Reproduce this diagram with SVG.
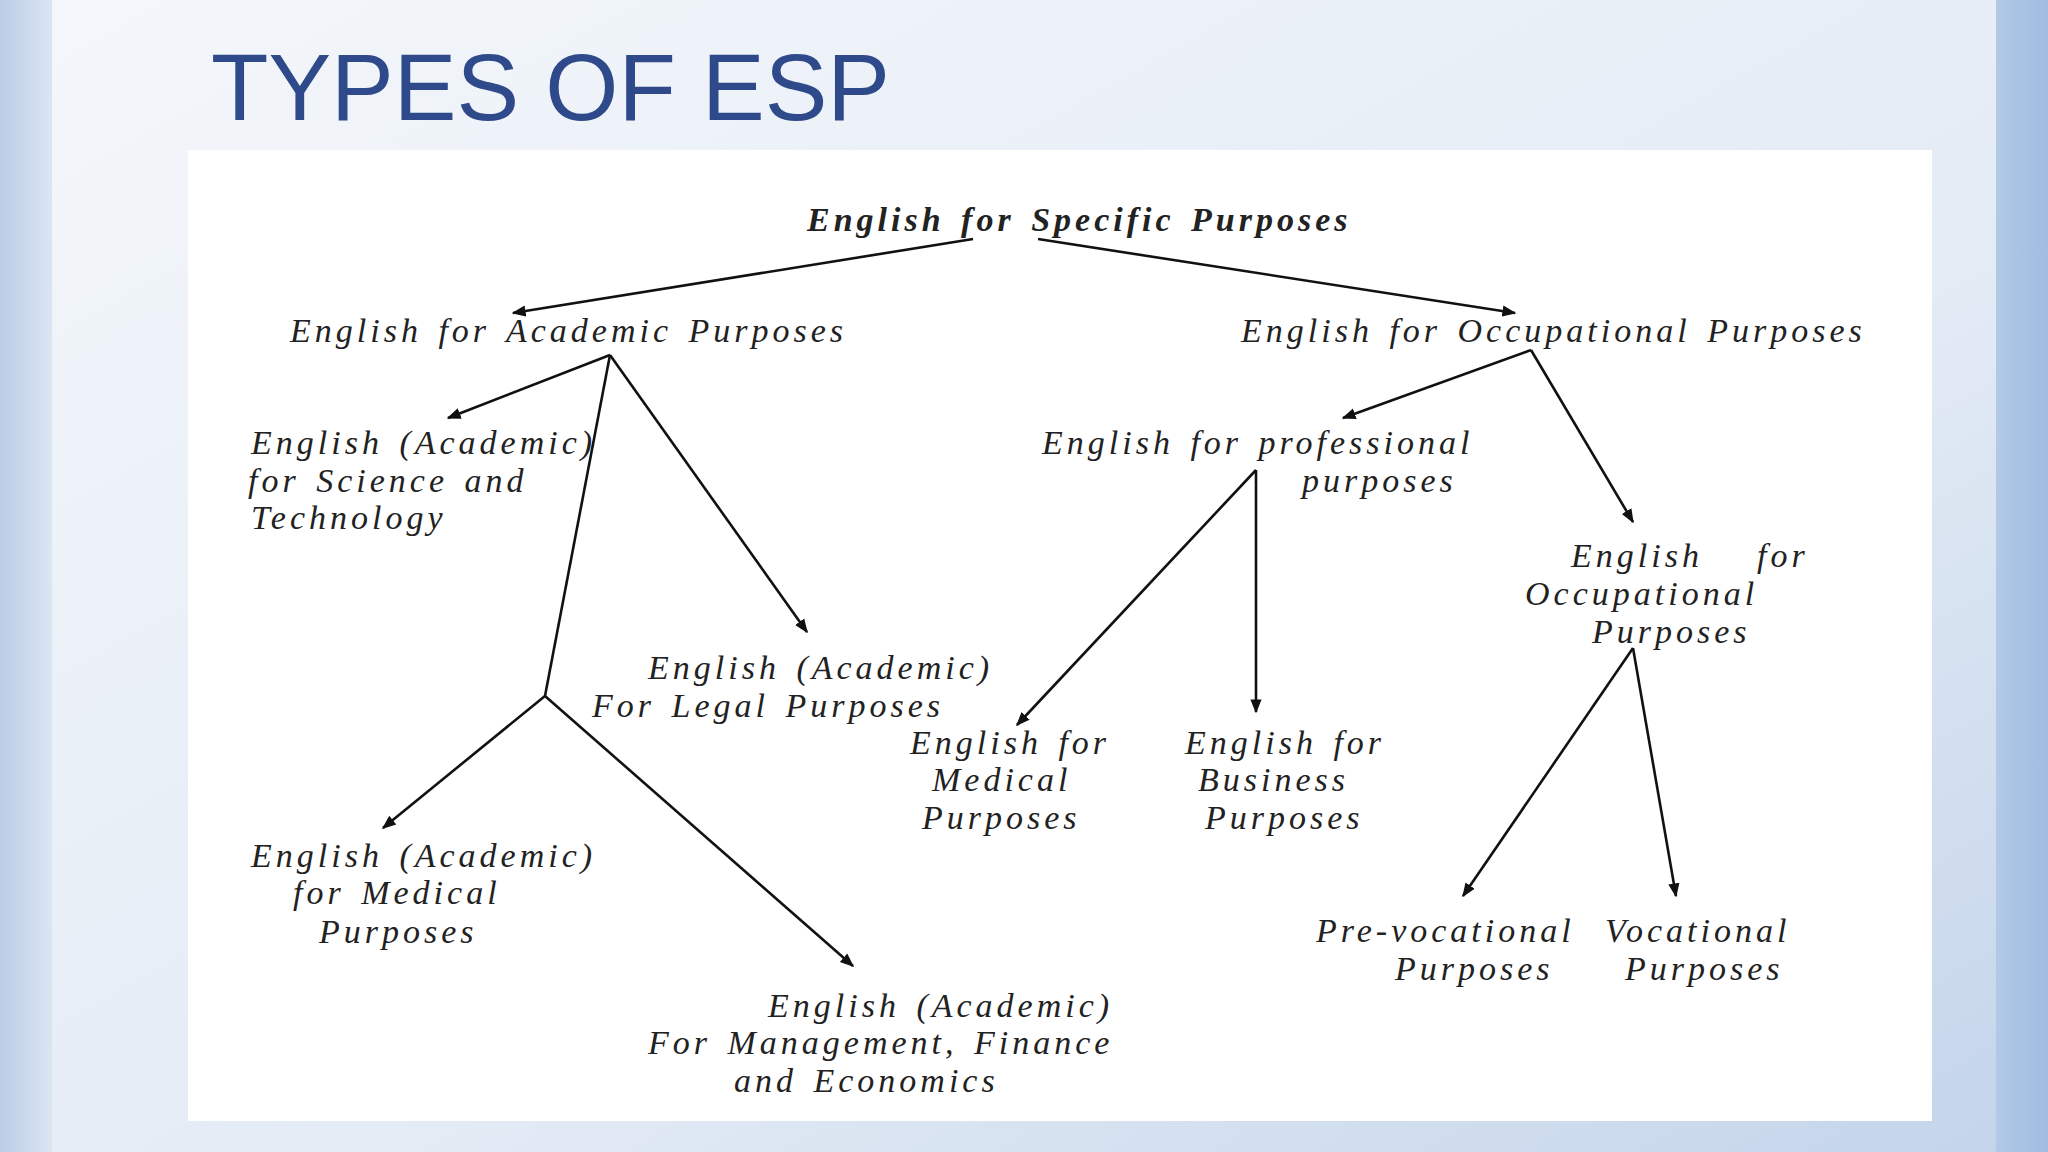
<svg xmlns="http://www.w3.org/2000/svg" width="2048" height="1152" viewBox="0 0 2048 1152">
<defs>
<linearGradient id="bg" x1="0" y1="0" x2="1" y2="1">
<stop offset="0" stop-color="#f4f7fb"/><stop offset="0.6" stop-color="#e3ebf5"/><stop offset="1" stop-color="#c3d4ea"/>
</linearGradient>
<linearGradient id="ls" x1="0" y1="0" x2="1" y2="0"><stop offset="0" stop-color="#b9cde6"/><stop offset="1" stop-color="#dbe6f2"/></linearGradient>
<linearGradient id="rs" x1="0" y1="0" x2="1" y2="0"><stop offset="0" stop-color="#b3c9e6"/><stop offset="1" stop-color="#9fbde0"/></linearGradient>
<marker id="ah" viewBox="0 0 10 10" refX="9" refY="5" markerWidth="14" markerHeight="14" markerUnits="userSpaceOnUse" orient="auto">
<path d="M0,1 L10,5 L0,9 z" fill="#111"/></marker>
<style>
.t{font-family:"Liberation Serif",serif;font-style:italic;font-size:34px;fill:#222;letter-spacing:4px;word-spacing:4px}
.c line{stroke:#111;stroke-width:2.6}
.a{marker-end:url(#ah)}
</style>
</defs>
<rect width="2048" height="1152" fill="url(#bg)"/>
<rect x="0" width="52" height="1152" fill="url(#ls)"/>
<rect x="1996" width="52" height="1152" fill="url(#rs)"/>
<text x="211" y="120" font-family="Liberation Sans,sans-serif" font-size="94" fill="#2f4a8a">TYPES OF ESP</text>
<rect x="188" y="150" width="1744" height="971" fill="#fff"/>
<g class="c">
<line class="a" x1="973" y1="239" x2="513" y2="313"/>
<line class="a" x1="1038" y1="239" x2="1515" y2="313"/>
<line class="a" x1="610" y1="355" x2="448" y2="418"/>
<line class="a" x1="610" y1="355" x2="807" y2="632"/>
<line x1="610" y1="355" x2="545" y2="696"/>
<line class="a" x1="545" y1="696" x2="383" y2="828"/>
<line class="a" x1="545" y1="696" x2="853" y2="966"/>
<line class="a" x1="1531" y1="350" x2="1343" y2="418"/>
<line class="a" x1="1531" y1="350" x2="1633" y2="522"/>
<line class="a" x1="1256" y1="470" x2="1017" y2="725"/>
<line class="a" x1="1256" y1="470" x2="1256" y2="712"/>
<line class="a" x1="1633" y1="648" x2="1463" y2="896"/>
<line class="a" x1="1633" y1="648" x2="1676" y2="896"/>
</g>
<g id="esp"><text class="t" x="807" y="231" font-weight="bold" letter-spacing="4.5">English for Specific Purposes</text></g>
<g id="eap"><text class="t" x="290" y="342">English for Academic Purposes</text></g>
<g id="eop"><text class="t" x="1241" y="342">English for Occupational Purposes</text></g>
<g id="est"><text class="t" x="251" y="454">English (Academic)</text><text class="t" x="248" y="492">for Science and</text><text class="t" x="251" y="529">Technology</text></g>
<g id="epp"><text class="t" x="1042" y="454">English for professional</text><text class="t" x="1302" y="492">purposes</text></g>
<g id="eop2"><text class="t" x="1571" y="567">English</text><text class="t" x="1757" y="567">for</text><text class="t" x="1525" y="605">Occupational</text><text class="t" x="1592" y="643">Purposes</text></g>
<g id="elp"><text class="t" x="648" y="679">English (Academic)</text><text class="t" x="592" y="717">For Legal Purposes</text></g>
<g id="emp"><text class="t" x="910" y="754">English for</text><text class="t" x="932" y="791">Medical</text><text class="t" x="922" y="829">Purposes</text></g>
<g id="ebp"><text class="t" x="1185" y="754">English for</text><text class="t" x="1198" y="791">Business</text><text class="t" x="1205" y="829">Purposes</text></g>
<g id="eamp"><text class="t" x="251" y="867">English (Academic)</text><text class="t" x="293" y="904">for Medical</text><text class="t" x="319" y="943">Purposes</text></g>
<g id="emfe"><text class="t" x="768" y="1017">English (Academic)</text><text class="t" x="648" y="1054">For Management, Finance</text><text class="t" x="734" y="1092">and Economics</text></g>
<g id="pvp"><text class="t" x="1316" y="942">Pre-vocational</text><text class="t" x="1395" y="980">Purposes</text></g>
<g id="vp"><text class="t" x="1605" y="942">Vocational</text><text class="t" x="1625" y="980">Purposes</text></g>
</svg>
